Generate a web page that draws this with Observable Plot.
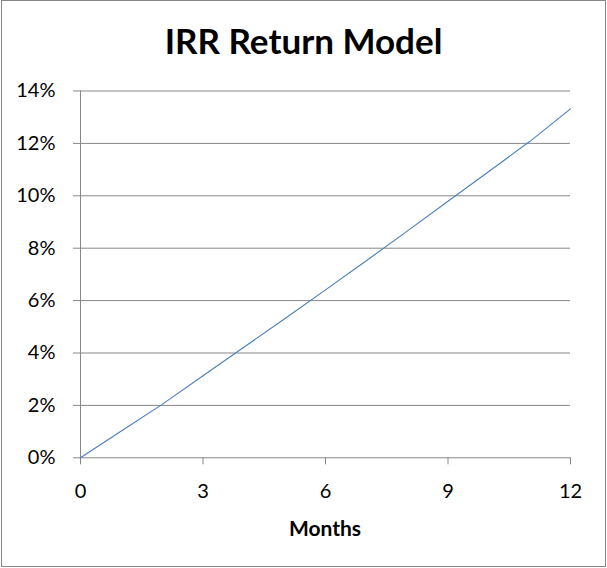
<!DOCTYPE html>
<html>
<head>
<meta charset="utf-8">
<script src="https://cdn.jsdelivr.net/npm/d3@7"></script>
<script src="https://cdn.jsdelivr.net/npm/@observablehq/plot@0.6"></script>
<style>
  html, body { margin: 0; padding: 0; background: #fff; }
  #wrap { position: relative; width: 607px; height: 568px; font-family: Lato, "Open Sans", sans-serif; color: #000; overflow: hidden; }
  #frame { position: absolute; left: 1px; top: 0px; width: 603px; height: 565px; border: 1px solid #878787; pointer-events: none; }
  #title { position: absolute; left: 0; top: 0; width: 607px; height: 80px; line-height: 80px; text-align: center; font-weight: bold; font-size: 35px; }
  #chart { padding-top: 60px; }
  #xlabel { margin-left: 80px; width: 490px; height: 40px; line-height: 40px; text-align: center; font-weight: bold; font-size: 21px; }
  svg { display: block; }
</style>
</head>
<body>
<div id="wrap">
  <div id="chart"></div>
  <div id="xlabel">Months</div>
  <div id="title">IRR Return Model</div>
  <div id="frame"></div>
</div>
<script>
const months = [0, 1, 2, 3, 4, 5, 6, 7, 8, 9, 10, 11, 12];
const irr = [0, 0.0102, 0.0204, 0.0313, 0.0422, 0.0531, 0.0641, 0.0752, 0.0865, 0.0979, 0.1093, 0.1207, 0.1332];
const xTicks = [0, 3, 6, 9, 12];
const yTicks = [0, 0.02, 0.04, 0.06, 0.08, 0.10, 0.12, 0.14];

const data = months.map((m, i) => ({month: m, value: irr[i]}));
const grey = "#878787";

const chart = Plot.plot({
  width: 607,
  height: 448,
  marginLeft: 80,
  marginRight: 37,
  marginTop: 30.5,
  marginBottom: 50.7,
  style: {fontFamily: "Lato, 'Open Sans', sans-serif", fontSize: "20px", color: "#000", background: "transparent"},
  x: {domain: [0, 12]},
  y: {domain: [0, 0.14]},
  marks: [
    Plot.ruleY(yTicks, {y: d => d, x1: 0, x2: 12, stroke: grey, strokeWidth: 1}),
    Plot.ruleX([0], {y1: 0, y2: 0.14, stroke: grey, strokeWidth: 1}),
    Plot.axisY({ticks: yTicks, tickSize: 7, text: null, stroke: grey, strokeOpacity: 1, label: null}),
    Plot.axisY({ticks: yTicks, tickSize: 0, tickPadding: 25, tickFormat: d3.format(".0%"), fill: "#000", label: null, fontSize: 20}),
    Plot.axisX({ticks: xTicks, tickSize: 7, text: null, stroke: grey, strokeOpacity: 1, label: null}),
    Plot.axisX({ticks: xTicks, tickSize: 0, tickPadding: 26, tickFormat: d => String(d), fill: "#000", label: null, fontSize: 20}),
    Plot.line(data, {x: "month", y: "value", stroke: "#4a7ebb", strokeWidth: 1.1})
  ]
});
document.getElementById("chart").appendChild(chart);
</script>
</body>
</html>
